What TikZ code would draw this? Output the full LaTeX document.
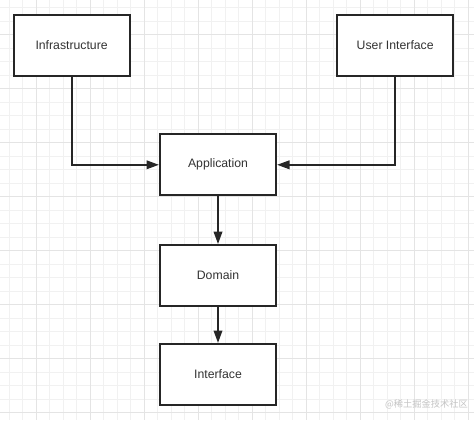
\documentclass[tikz,border=0pt]{standalone}
\usepackage{fontspec}
\setmainfont{Liberation Sans}
\newfontfamily\cjk{Noto Sans CJK SC}
\usetikzlibrary{arrows.meta}
\definecolor{boxline}{HTML}{262626}
\definecolor{txt}{HTML}{333333}
\definecolor{gridminor}{HTML}{F1F1F1}
\definecolor{gridmajor}{HTML}{E4E4E4}
\definecolor{wm}{HTML}{C4C4C4}
\begin{document}
\begin{tikzpicture}[x=1bp,y=-1bp,
  layer/.style={draw=boxline, line width=2bp, fill=white, minimum width=116bp, minimum height=61bp, inner sep=0pt, text=txt, font=\fontsize{12.3}{14}\selectfont},
  link/.style={draw=boxline, line width=2bp, -{Triangle[length=12.5bp,width=8.5bp]}}]
\useasboundingbox (0,0) rectangle (474,420);
\fill[white] (0,0) rectangle (474,420);
% grid
\foreach \i in {-2,...,35} {
  \draw[gridminor, line width=0.8bp] ({36+13.5*\i},0) -- ({36+13.5*\i},420);
  \draw[gridminor, line width=0.8bp] (0,{34.7+13.5*\i}) -- (474,{34.7+13.5*\i});
}
\foreach \i in {-1,...,9} {
  \draw[gridmajor, line width=0.9bp] ({36+54*\i},0) -- ({36+54*\i},420);
  \draw[gridmajor, line width=0.9bp] (0,{34.7+54*\i}) -- (474,{34.7+54*\i});
}
% boxes
\node[layer] (infra) at (71.6,45.5) {Infrastructure};
\node[layer] (ui) at (395.2,45.5) {User Interface};
\node[layer] (app) at (218,164.8) {Application};
\node[layer] (dom) at (218,275.6) {Domain};
\node[layer] (itf) at (218,374.5) {Interface};
% connectors
\draw[link] (infra.south) |- (app.west);
\draw[link] (ui.south) |- (app.east);
\draw[link] (app.south) -- (dom.north);
\draw[link] (dom.south) -- (itf.north);
% watermark
\node[text=wm, font=\cjk\fontsize{9.3}{11}\selectfont, inner sep=0pt] (wmark) at (426.5,404.5) {@稀土掘金技术社区};
\end{tikzpicture}
\end{document}
